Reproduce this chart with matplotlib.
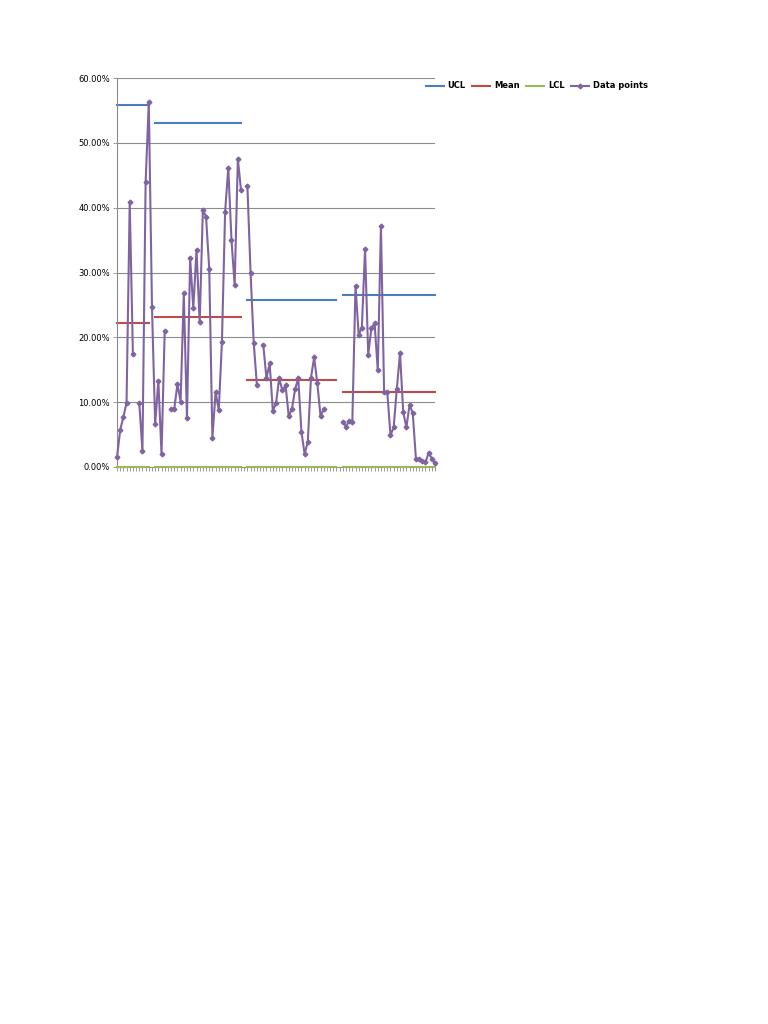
import numpy as np
import matplotlib
matplotlib.use("Agg")
import matplotlib.pyplot as plt
from matplotlib.ticker import FuncFormatter

nan = np.nan
# Data points (percent), one per category; nan = blank cell
data_points = [1.5, 5.7, 7.7, 9.9, 40.9, 17.4, nan, 9.9, 2.5, 43.9, 56.3,
               24.7, 6.6, 13.3, 2.0, 21.0, nan, 8.9, 8.9, 12.8, 10.1,
               26.8, 7.5, 32.2, 24.5, 33.5, 22.3, 39.7, 38.6, 30.6, 4.5,
               11.5, 8.8, 19.3, 39.4, 46.1, 35.0, 28.1, 47.5, 42.7, nan,
               43.4, 30.0, 19.1, 12.6, nan, 18.8, 13.7, 16.0, 8.7, 9.8,
               13.7, 11.8, 12.6, 7.9, 8.9, 12.0, 13.7, 5.4, 2.0, 3.9,
               13.8, 16.9, 12.9, 7.9, 8.9, nan, nan, nan, nan, nan,
               7.0, 6.2, 7.1, 7.0, 27.9, 20.4, 21.5, 33.6, 17.3, 21.4,
               22.2, 14.9, 37.1, 11.6, 11.5, 4.9, 6.1, 12.1, 17.6, 8.5,
               6.1, 9.6, 8.3, 1.3, 1.2, 1.0, 0.7, 2.2, 1.3, 0.6]

# Phases (category index ranges) and control limits (percent)
phase_start = [0, 12, 41, 71]
phase_end = [10, 39, 69, 100]
ucl_values = [55.8, 53.1, 25.7, 26.5]
mean_values = [22.2, 23.1, 13.4, 11.6]
lcl_values = [0.0, 0.0, 0.0, 0.0]

y_ticks = [0, 10, 20, 30, 40, 50, 60]

n = len(data_points)
x = np.arange(n)


def phase_series(vals):
    arr = np.full(n, np.nan)
    for s, e, v in zip(phase_start, phase_end, vals):
        arr[s:e + 1] = v
    return arr


ucl = phase_series(ucl_values)
mean = phase_series(mean_values)
lcl = phase_series(lcl_values)
dp = np.array(data_points, dtype=float)

C_UCL = "#4A7EBB"
C_MEAN = "#BE4B48"
C_LCL = "#98B954"
C_DATA = "#8064A2"
GRID = "#8C8C8C"

fig = plt.figure(figsize=(7.68, 10.24), dpi=100)
ax = fig.add_axes([117 / 768, 1 - 467 / 1024, (435 - 117) / 768, (467 - 78) / 1024])

l1, = ax.plot(x, ucl, color=C_UCL, lw=1.5, clip_on=False, label="UCL")
l2, = ax.plot(x, mean, color=C_MEAN, lw=1.5, clip_on=False, label="Mean")
l3, = ax.plot(x, lcl, color=C_LCL, lw=1.5, clip_on=False, label="LCL", zorder=3)
l4, = ax.plot(x, dp, color=C_DATA, lw=1.5, marker="D", markersize=2.4,
              markerfacecolor=C_DATA, markeredgecolor=C_DATA, clip_on=False,
              label="Data points", zorder=4)

ax.set_xlim(0, n - 1)
ax.set_ylim(0, 60)
ax.set_yticks(y_ticks)
ax.yaxis.set_major_formatter(FuncFormatter(lambda v, p: f"{v:.2f}%"))
ax.set_xticks(x)
ax.set_xticklabels([])
ax.tick_params(axis="x", length=3, width=0.6, color=GRID, direction="out")
ax.tick_params(axis="y", length=3, width=0.6, color=GRID, direction="out",
               labelsize=6, pad=2)
ax.yaxis.grid(True, color=GRID, lw=0.8)
ax.set_axisbelow(True)
for side in ["top", "right"]:
    ax.spines[side].set_visible(False)
ax.spines["left"].set_color(GRID)
ax.spines["bottom"].set_color(GRID)
ax.spines["left"].set_linewidth(0.8)
ax.spines["bottom"].set_linewidth(0.8)

fig.legend(handles=[l1, l2, l3, l4], loc="center left",
           bbox_to_anchor=(426 / 768, 1 - 86 / 1024), ncol=4, frameon=False,
           prop={"size": 6, "weight": "bold"}, handlelength=2.1,
           handletextpad=0.5, columnspacing=0.8, borderaxespad=0, borderpad=0)

fig.savefig("out.png", dpi=100, facecolor="white")
